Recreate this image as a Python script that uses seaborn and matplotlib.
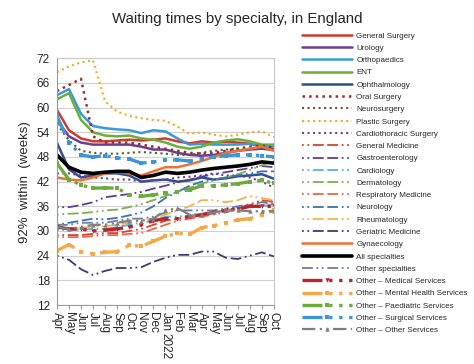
import matplotlib
matplotlib.use("Agg")
import matplotlib.pyplot as plt
import seaborn as sns
import pandas as pd

months = ["Apr", "May", "Jun", "Jul", "Aug", "Sep", "Oct", "Nov", "Dec", "Jan", "Feb",
          "Mar", "Apr", "May", "Jun", "Jul", "Aug", "Sep", "Oct"]

general_surgery = [59.5, 54.5, 52.5, 51.8, 51.8, 52.0, 52.2, 52.0, 52.2, 52.5, 51.8, 51.3, 51.8, 51.5, 51.7, 51.5, 51.2, 50.5, 49.8]
urology = [57.0, 53.0, 51.5, 51.0, 51.0, 51.0, 51.0, 50.5, 49.8, 49.8, 49.0, 48.5, 48.3, 48.5, 49.0, 49.5, 49.8, 50.0, 49.7]
orthopaedics = [63.0, 64.5, 58.5, 55.5, 55.0, 54.7, 54.5, 53.8, 54.5, 54.2, 52.5, 51.0, 51.2, 51.0, 51.0, 51.0, 51.2, 50.8, 50.5]
ent = [62.0, 63.5, 57.0, 54.0, 53.2, 53.0, 53.2, 52.5, 52.2, 51.5, 50.5, 50.0, 50.5, 51.5, 52.0, 52.3, 51.8, 51.0, 51.0]
ophthalmology = [51.5, 45.0, 43.0, 43.5, 44.0, 44.0, 43.5, 42.0, 42.3, 42.5, 42.0, 42.3, 43.0, 42.5, 42.8, 43.3, 43.5, 43.8, 42.7]
oral_surgery = [64.0, 65.5, 67.0, 53.0, 51.5, 51.5, 51.5, 51.0, 50.5, 50.0, 49.5, 49.0, 48.8, 49.0, 49.5, 50.0, 50.5, 50.8, 50.2]
neurosurgery = [56.0, 52.0, 49.5, 49.0, 48.8, 48.8, 49.0, 49.2, 49.0, 48.8, 48.5, 48.5, 49.0, 49.5, 49.8, 50.0, 50.0, 50.3, 50.0]
plastic_surgery = [68.6, 70.0, 71.0, 71.5, 61.5, 59.0, 58.0, 57.4, 57.0, 56.8, 55.4, 53.6, 54.0, 53.4, 53.0, 53.4, 54.0, 54.2, 52.8]
cardiothoracic = [44.0, 44.0, 43.5, 43.0, 42.8, 42.5, 42.5, 42.0, 42.3, 42.5, 43.0, 43.2, 43.5, 44.0, 43.5, 43.5, 43.0, 42.0, 40.5]
general_medicine = [29.0, 29.0, 29.0, 29.3, 29.5, 29.5, 30.0, 30.5, 31.5, 32.5, 33.0, 33.5, 34.0, 34.5, 35.0, 35.5, 36.5, 37.5, 37.0]
gastroenterology = [35.8, 35.8, 36.3, 37.0, 38.2, 38.6, 39.0, 39.5, 40.3, 41.0, 41.8, 42.5, 43.2, 43.8, 44.3, 44.8, 45.3, 45.8, 45.5]
cardiology = [30.2, 30.3, 30.3, 30.5, 30.5, 31.0, 31.5, 32.0, 32.5, 33.5, 33.5, 33.8, 34.0, 34.5, 35.0, 35.5, 36.0, 36.0, 36.5]
dermatology = [34.0, 34.2, 34.3, 34.6, 35.0, 35.2, 35.8, 36.5, 37.5, 38.5, 39.5, 40.5, 41.5, 42.3, 43.0, 43.8, 44.8, 46.0, 47.0]
respiratory = [28.5, 28.5, 28.5, 28.8, 29.0, 29.0, 29.3, 29.5, 30.5, 31.5, 32.5, 33.0, 33.5, 34.0, 34.5, 35.5, 36.0, 37.0, 37.5]
neurology = [31.5, 32.0, 32.5, 33.0, 32.8, 33.2, 33.8, 34.5, 36.0, 38.0, 39.5, 41.0, 42.0, 42.5, 43.0, 43.5, 44.0, 44.5, 44.5]
rheumatology = [30.5, 30.5, 30.8, 31.0, 31.2, 31.5, 32.0, 32.5, 33.0, 34.0, 35.0, 36.0, 37.5, 37.5, 37.0, 37.5, 38.5, 38.0, 37.5]
geriatric = [24.0, 23.0, 20.7, 19.3, 20.3, 21.0, 21.0, 21.2, 22.5, 23.5, 24.2, 24.2, 25.0, 25.0, 23.5, 23.2, 24.0, 24.8, 23.8]
gynaecology = [43.0, 42.5, 42.3, 43.0, 44.0, 44.3, 44.0, 43.5, 44.5, 45.5, 45.5, 46.2, 47.0, 48.0, 49.0, 49.5, 50.0, 50.5, 49.5]
all_specialties = [48.5, 45.5, 44.3, 44.0, 44.3, 44.5, 44.5, 43.0, 43.5, 44.3, 44.0, 44.3, 44.8, 45.2, 45.5, 45.8, 46.2, 46.8, 46.5]
other_specialties = [31.5, 31.5, 32.0, 32.0, 32.0, 32.5, 33.0, 33.0, 33.5, 34.5, 35.0, 35.0, 35.0, 35.0, 35.5, 36.0, 36.5, 37.0, 36.5]
other_medical = [31.0, 30.5, 30.5, 30.0, 30.2, 30.5, 31.0, 31.5, 32.5, 33.0, 33.0, 33.5, 34.0, 34.5, 35.0, 35.3, 36.0, 36.0, 36.0]
other_mental = [25.2, 26.7, 25.0, 24.5, 24.8, 25.0, 26.5, 26.3, 27.5, 28.7, 29.4, 29.2, 30.8, 31.3, 32.0, 32.7, 33.0, 34.0, 35.0]
other_paediatric = [46.5, 42.5, 41.2, 40.4, 40.5, 40.4, 38.8, 38.4, 38.8, 39.2, 39.6, 40.0, 41.0, 41.0, 41.2, 41.5, 42.0, 42.3, 41.6]
other_surgical = [58.0, 51.5, 48.5, 48.0, 48.3, 47.8, 47.5, 46.5, 46.8, 47.2, 47.3, 47.0, 47.5, 48.0, 48.3, 48.5, 48.5, 48.3, 48.0]
other_other = [31.0, 30.5, 31.0, 31.5, 31.5, 32.0, 32.5, 32.5, 33.0, 35.0, 35.5, 34.0, 34.0, 34.5, 35.0, 35.0, 34.8, 34.8, 34.8]

dd = (6, 2, 1, 2, 1, 2)
ld = (1, 2, 1, 2, 6, 2, 6, 2)
series = [
    ("General Surgery", general_surgery, "#D03A2A", "-", 1.8, None),
    ("Urology", urology, "#6A3D9A", "-", 1.8, None),
    ("Orthopaedics", orthopaedics, "#3A9AD9", "-", 1.8, None),
    ("ENT", ent, "#6AAF3A", "-", 1.8, None),
    ("Ophthalmology", ophthalmology, "#2F4F8F", "-", 1.8, None),
    ("Oral Surgery", oral_surgery, "#A0282E", ":", 1.8, None),
    ("Neurosurgery", neurosurgery, "#5E5A2E", ":", 1.5, None),
    ("Plastic Surgery", plastic_surgery, "#F5A623", ":", 1.5, None),
    ("Cardiothoracic Surgery", cardiothoracic, "#6B3FA0", ":", 1.5, None),
    ("General Medicine", general_medicine, "#D9412B", ld, 1.3, None),
    ("Gastroenterology", gastroenterology, "#5B3F8F", ld, 1.3, None),
    ("Cardiology", cardiology, "#4FB3E0", ld, 1.3, None),
    ("Dermatology", dermatology, "#7DB04A", ld, 1.3, None),
    ("Respiratory Medicine", respiratory, "#E8674A", ld, 1.3, None),
    ("Neurology", neurology, "#3B6FB6", ld, 1.3, None),
    ("Rheumatology", rheumatology, "#F2B449", ld, 1.3, None),
    ("Geriatric Medicine", geriatric, "#3C3A78", ld, 1.3, None),
    ("Gynaecology", gynaecology, "#EE7133", "-", 1.8, None),
    ("All specialties", all_specialties, "#000000", "-", 2.6, None),
    ("Other specialties", other_specialties, "#6C7CA8", dd, 1.3, None),
    ("Other – Medical Services", other_medical, "#B8242A", dd, 2.4, "v"),
    ("Other – Mental Health Services", other_mental, "#F5A845", dd, 2.4, "s"),
    ("Other – Paediatric Services", other_paediatric, "#6DAA3C", dd, 2.4, "s"),
    ("Other – Surgical Services", other_surgical, "#3C96D6", dd, 2.4, "s"),
    ("Other – Other Services", other_other, "#7F7F7F", dd, 1.6, "^"),
]

sns.set_style("white")
plt.rcParams['font.family'] = ['Liberation Sans', 'DejaVu Sans']

fig = plt.figure(figsize=(4.74, 3.64), dpi=100)
ax = fig.add_axes([0.12, 0.162, 0.458, 0.678])

x = list(range(len(months)))
for name, vals, col, ls, lw, mk in series:
    df = pd.DataFrame({"m": x, "v": vals})
    kw = {}
    if mk is not None:
        kw = dict(marker=mk, markersize=3.2, markeredgewidth=0)
    sns.lineplot(data=df, x="m", y="v", ax=ax, color=col, linewidth=lw, label=name, **kw)
    line = ax.get_lines()[-1]
    if isinstance(ls, tuple):
        line.set_dashes(ls)
    else:
        line.set_linestyle(ls)

ax.set_xlim(0, 18)
ax.set_ylim(12, 72)
ax.set_yticks(range(12, 73, 6))
ax.set_xticks(x)
ax.set_xticklabels(months, rotation=-90, fontsize=8.5)
ax.tick_params(axis='y', labelsize=8.5, length=3, color="#999999", pad=2)
ax.tick_params(axis='x', length=3, color="#999999", pad=2, bottom=True)
ax.yaxis.grid(True, color="#D0D0D0", linewidth=0.8)
ax.xaxis.grid(False)
for s in ax.spines.values():
    s.set_color("#C8C8C8")
    s.set_linewidth(0.8)
ax.spines['left'].set_color("#999999")
ax.spines['bottom'].set_color("#999999")
ax.set_xlabel("")
ax.set_ylabel("92%  within  (weeks)", fontsize=9.5, labelpad=4)
ax.text(9, -0.115, "2022", transform=ax.get_xaxis_transform(), rotation=-90,
        ha="center", va="top", fontsize=8.5)

fig.suptitle("Waiting times by specialty, in England", fontsize=10.8, y=0.968, x=0.5)

h, l = ax.get_legend_handles_labels()
ax.legend(h, l, loc="upper left", bbox_to_anchor=(0.637, 0.912), bbox_transform=fig.transFigure,
          frameon=False, fontsize=5.8, handlelength=6.2, handletextpad=0.55,
          labelspacing=0.575, borderaxespad=0, borderpad=0)

fig.savefig("out.png", dpi=100)
